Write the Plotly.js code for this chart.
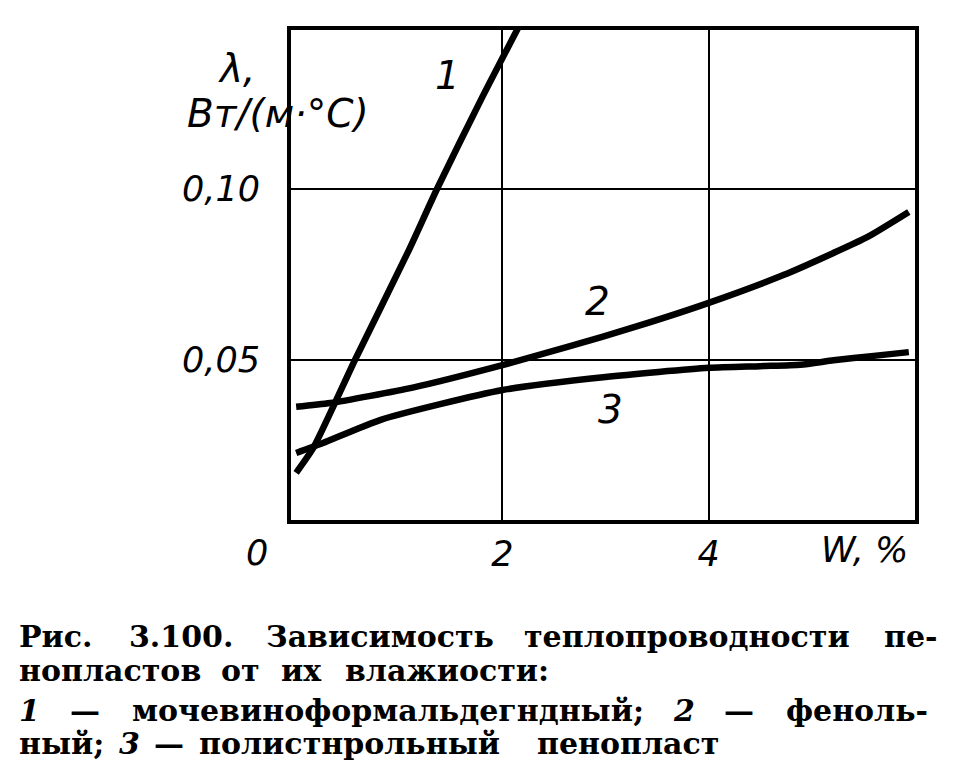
<!DOCTYPE html>
<html>
<head>
<meta charset="utf-8">
<script src="https://cdn.plot.ly/plotly-3.0.1.min.js"></script>
<style>
html,body{margin:0;padding:0;background:#fff;}
#chart{width:970px;height:782px;}
</style>
</head>
<body>
<div id="chart"></div>
<script>
// Curve 1 — мочевиноформальдегидный
const w1 = [0, 0.17, 0.57, 1.08, 1.37, 1.79, 2.15];
const lam1 = [0.0170, 0.0245, 0.0500, 0.0813, 0.1003, 0.1260, 0.1470];
// Curve 2 — фенольный
const w2 = [0, 0.33, 1.14, 2.0, 2.63, 3.3, 4.0, 4.73, 5.21, 5.54, 5.94];
const lam2 = [0.0363, 0.0374, 0.0420, 0.0485, 0.0538, 0.0598, 0.0667, 0.0749, 0.0813, 0.0860, 0.0933];
// Curve 3 — полистирольный
const w3 = [0, 0.26, 0.82, 2.0, 3.0, 4.0, 4.5, 4.89, 5.21, 5.6, 5.94];
const lam3 = [0.0228, 0.0257, 0.0325, 0.0412, 0.0450, 0.0477, 0.0482, 0.0486, 0.0499, 0.0512, 0.0523];

const xTicks = [2, 4];
const xTickText = ["2", "4"];
const yTicks = [0.05, 0.10];
const yTickText = ["0,05", "0,10"];
const curveLabels = ["1", "2", "3"];
const curveLabelX = [1.47, 2.92, 3.05];
const curveLabelY = [0.1333, 0.067, 0.0354];

// caption words, per printed line
const capLine1 = ["Рис.", "3.100.", "Зависимость", "теплопроводности", "пе-"];
const capLine2 = ["нопластов", "от", "их", "влажиости:"];
const capLine3 = ["<i>1</i>", "—", "мочевиноформальдегндный;", "<i>2</i>", "—", "феноль-"];
const capLine4 = ["ный;", "<i>3</i>", "—", "полистнрольный", "пенопласт"];
const capLines = [capLine1, capLine2, capLine3, capLine4];

const L = 291, R = 55, T = 30, B = 262, W = 970, H = 782;
const pw = W - L - R, ph = H - T - B;
function px2paperX(px) { return (px - L) / pw; }
function px2paperY(py) { return (H - B - py) / ph; }

const lineStyle = {color: "#000", width: 6.5, shape: "spline", smoothing: 0.6};
const traces = [
  {x: w1, y: lam1, mode: "lines", line: lineStyle, hoverinfo: "skip"},
  {x: w2, y: lam2, mode: "lines", line: lineStyle, hoverinfo: "skip"},
  {x: w3, y: lam3, mode: "lines", line: lineStyle, hoverinfo: "skip"}
];

const FAM = "'DejaVu Sans', sans-serif";
const tickFont = {family: FAM, size: 35, color: "#000", style: "italic"};
const bigFont = {family: FAM, size: 39, color: "#000", style: "italic"};
const capFont = {family: "'DejaVu Serif', serif", size: 30, color: "#000", weight: "bold"};

function paperAnn(text, xpx, ypx, font, xanchor) {
  return {x: px2paperX(xpx), y: px2paperY(ypx), xref: "paper", yref: "paper",
    text: text, showarrow: false, font: font,
    xanchor: xanchor || "center", yanchor: "middle", align: "left"};
}

const annotations = [];
curveLabels.forEach((t, i) => annotations.push({
  x: curveLabelX[i], y: curveLabelY[i], xref: "x", yref: "y", text: t,
  showarrow: false, font: bigFont, xanchor: "center", yanchor: "middle"
}));
annotations.push(paperAnn("0", 257, 553, tickFont));
annotations.push(paperAnn("W, %", 864, 550, tickFont));
annotations.push(paperAnn("λ,", 236, 68, bigFont));
annotations.push(paperAnn("Вт/(м·°С)", 278, 113, bigFont));

// word left edges (px) and line centres (px)
const capX = [
  [17, 127, 264, 522, 882],
  [17, 219, 279, 343],
  [17, 68, 130, 671, 722, 784],
  [17, 117, 152, 197, 535]
];
const capY = [636, 670, 710, 743];
capLines.forEach((words, li) => words.forEach((w, wi) =>
  annotations.push(paperAnn(w, capX[li][wi], capY[li], capFont, "left"))));

const layout = {
  width: W, height: H,
  margin: {l: L, r: R, t: T, b: B, pad: 0},
  paper_bgcolor: "#fff", plot_bgcolor: "#fff",
  showlegend: false,
  xaxis: {
    range: [-0.05, 6.0], tickvals: xTicks, ticktext: xTickText,
    showgrid: true, gridcolor: "#000", gridwidth: 2,
    showline: true, linecolor: "#000", linewidth: 4, mirror: true,
    ticks: "", zeroline: false, ticklabelstandoff: 0,
    tickfont: tickFont
  },
  yaxis: {
    range: [0.0032, 0.1465], tickvals: yTicks, ticktext: yTickText,
    showgrid: true, gridcolor: "#000", gridwidth: 2,
    showline: true, linecolor: "#000", linewidth: 4, mirror: true,
    ticks: "", zeroline: false, ticklabelstandoff: 20,
    tickfont: tickFont
  },
  annotations: annotations
};

Plotly.newPlot("chart", traces, layout, {displayModeBar: false, staticPlot: true});
</script>
</body>
</html>
